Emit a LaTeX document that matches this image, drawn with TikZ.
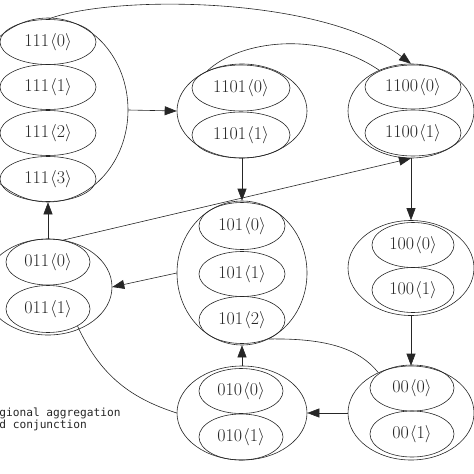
\documentclass[tikz,border=0pt]{standalone}
\usepackage{fontspec}
\newfontfamily\codefont{DejaVu Sans Mono}
\usetikzlibrary{shapes.geometric,arrows.meta}
\newcommand{\lab}[2]{#1\kern1pt$\langle$#2$\rangle$}
\tikzset{
  state/.style={ellipse,draw,inner sep=0pt,font=\fontsize{18}{18}\selectfont},
  group/.style={ellipse,draw,inner sep=0pt},
  arr/.style={-{Triangle[length=12pt,width=9pt]}}
}
\begin{document}
\begin{tikzpicture}[x=1pt,y=-1pt,line width=0.6pt,color=black!85]
\useasboundingbox (0,0) rectangle (474,474);
\clip (0,0) rectangle (474,474);
\node [group,minimum width=160,minimum height=184] (g111) at (48,110) {};
\node [state,minimum width=96,minimum height=45] (s1110) at (48,42) {\lab{111}{0}};
\node [state,minimum width=96,minimum height=45] (s1111) at (48,87) {\lab{111}{1}};
\node [state,minimum width=96,minimum height=45] (s1112) at (48,133) {\lab{111}{2}};
\node [state,minimum width=96,minimum height=45] (s1113) at (48,179) {\lab{111}{3}};
\node [group,minimum width=130,minimum height=94] (g1101) at (242,111) {};
\node [state,minimum width=98,minimum height=46] (s11010) at (241,88) {\lab{1101}{0}};
\node [state,minimum width=98,minimum height=46] (s11011) at (241,135) {\lab{1101}{1}};
\node [group,minimum width=126,minimum height=94] (g1100) at (411,111) {};
\node [state,minimum width=96,minimum height=44] (s11000) at (413,87) {\lab{1100}{0}};
\node [state,minimum width=96,minimum height=46] (s11001) at (413,133) {\lab{1100}{1}};
\node [group,minimum width=130,minimum height=144] (g101) at (242,273) {};
\node [state,minimum width=86,minimum height=47] (s1010) at (242,226) {\lab{101}{0}};
\node [state,minimum width=86,minimum height=45] (s1011) at (242,274) {\lab{101}{1}};
\node [state,minimum width=86,minimum height=47] (s1012) at (242,320) {\lab{101}{2}};
\node [group,minimum width=128,minimum height=96] (g011) at (48,287) {};
\node [state,minimum width=84,minimum height=46] (s0110) at (48,262) {\lab{011}{0}};
\node [state,minimum width=84,minimum height=47] (s0111) at (48,309) {\lab{011}{1}};
\node [group,minimum width=126,minimum height=95] (g100) at (411,268) {};
\node [state,minimum width=82,minimum height=45] (s1000) at (413,245) {\lab{100}{0}};
\node [state,minimum width=82,minimum height=45] (s1001) at (413,290) {\lab{100}{1}};
\node [group,minimum width=130,minimum height=94] (g010) at (242,413) {};
\node [state,minimum width=84,minimum height=45] (s0100) at (241,391) {\lab{010}{0}};
\node [state,minimum width=84,minimum height=46] (s0101) at (241,437) {\lab{010}{1}};
\node [group,minimum width=126,minimum height=94] (g00) at (411,413) {};
\node [state,minimum width=84,minimum height=46] (s000) at (412,388) {\lab{00}{0}};
\node [state,minimum width=84,minimum height=46] (s001) at (412,434) {\lab{00}{1}};
\node [anchor=base west,inner sep=0pt,font=\codefont\fontsize{11.2}{11.2}\selectfont] (t1) at (-1,416) {gional aggregation};
\node [anchor=base west,inner sep=0pt,font=\codefont\fontsize{11.2}{11.2}\selectfont] (t2) at (-1,428) {d conjunction};
\draw [arr] (g111.east) -- (g1101.west);
\draw [arr] (g1101.south) -- (g101.north);
\draw [arr] (g101.west) -- (g011.east);
\draw [arr] (g011.north) -- (g111.south);
\draw [arr] (g011.72) -- (g1100.south);
\draw [arr] (g1100.south) -- (g100.north);
\draw [arr] (g100.south) -- (g00.north);
\draw [arr] (g00.west) -- (g010.east);
\draw [arr] (g010.north) -- (g101.south);
\draw [arr] (s1110.north) .. controls (110,-5) and (320,-5) .. (g1100.north);
\draw (g1101.131) .. controls (240,40) and (320,30) .. (g1100.128);
\draw (s0111.-30) .. controls (100,375) and (130,398) .. (g010.west);
\draw (g101.-68) .. controls (330,338) and (360,350) .. (g00.129);
\end{tikzpicture}
\end{document}
